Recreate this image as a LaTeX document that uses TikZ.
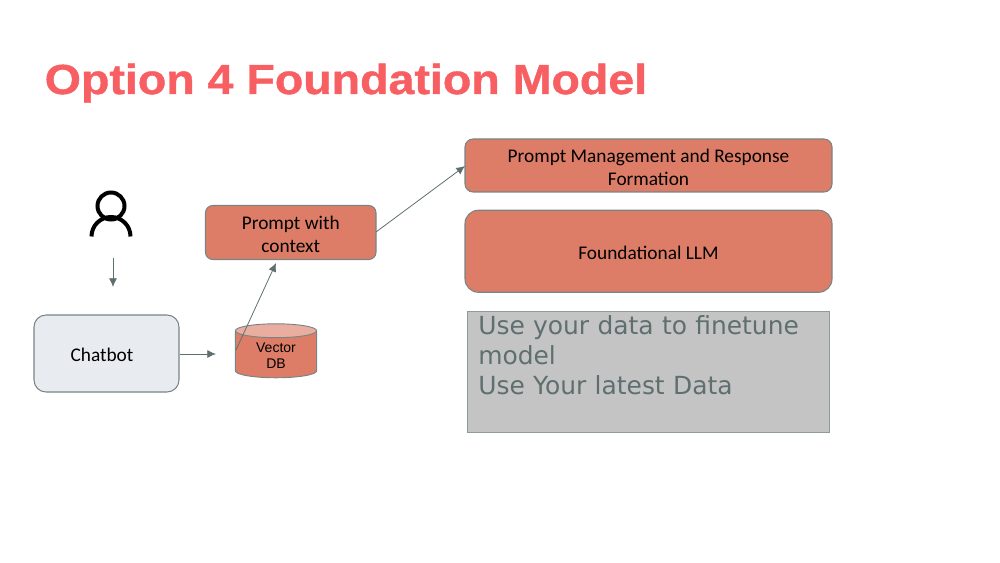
\documentclass[tikz,border=0pt]{standalone}
\usepackage{fontspec}
\setmainfont{Carlito}
\newfontfamily\titlefont[FakeStretch=1.108,FakeBold=1]{Liberation Sans}
\newfontfamily\dbfont{Liberation Sans}
\newfontfamily\notefont{DejaVu Sans}
\usetikzlibrary{positioning, arrows.meta, shapes.geometric}
\definecolor{salmon}{HTML}{DD7D67}
\definecolor{salmonlight}{HTML}{E9AE9F}
\definecolor{edgegray}{HTML}{5F6F6F}
\definecolor{chatfill}{HTML}{E8ECF1}
\definecolor{notefill}{HTML}{C4C4C4}
\definecolor{titlered}{HTML}{F75F63}
\newcommand{\dropline}{\\[-5pt]}
\tikzset{
	box/.style={draw=edgegray!85, line width=0.8pt, fill=salmon, align=center, inner sep=0pt, font=\fontsize{14.5}{17.2}\selectfont},
	link/.style={draw=edgegray, line width=0.6pt, -{Latex[length=6.5pt,width=6pt]}},
}
\begin{document}
\begin{tikzpicture}[x=0.75pt, y=-0.75pt]
	\useasboundingbox (0,0) rectangle (1000,563);

	\node[anchor=base west, inner sep=0pt, text=titlered, font=\titlefont\fontsize{31.5}{36}\bfseries\selectfont] (title) at (44.5,94) {Option 4 Foundation Model};

	% user icon
	\draw[line width=3pt, black] (111,206) circle (13.5);
	\draw[line width=3pt, black] (91.5,236.5) arc[start angle=180, end angle=0, x radius=19.5, y radius=-19.5];
	\coordinate (userout) at (113,258);
	\coordinate (botin) at (113,287);
	\coordinate (dbin) at (216,354);

	\node[box, minimum width=108.75pt, minimum height=57.75pt, rounded corners=9pt, fill=chatfill] (chatbot) at (106.5,353.5) {\dropline Chatbot\hspace*{6.75pt}};
	\node[box, minimum width=127.9pt, minimum height=40.5pt, rounded corners=5.5pt] (prompt) at (290.75,232.5) {\dropline Prompt with\\context};
	\node[box, minimum width=275.25pt, minimum height=39.75pt, rounded corners=6pt] (mgmt) at (648.5,165.5) {\dropline Prompt Management and Response\\Formation};
	\node[box, minimum width=275.25pt, minimum height=61.5pt, rounded corners=10pt] (llm) at (648.5,251.25) {\dropline Foundational LLM};
	\node[draw=edgegray!70, line width=0.7pt, fill=notefill, minimum width=271.5pt, minimum height=90.75pt, inner sep=0pt] (notebox) at (648.5,371.5) {};
	\node[anchor=north west, inner sep=0pt, text width=262pt, align=left, text=edgegray, font=\notefont\fontsize{18.7}{22.5}\selectfont] (note) at (478,315) {Use your data to finetune model\\Use Your latest Data};

	\node[cylinder, shape border rotate=90, aspect=0.35, draw=edgegray!85, line width=0.7pt, cylinder uses custom fill, cylinder body fill=salmon, cylinder end fill=salmonlight, minimum width=61pt, minimum height=40.5pt, inner sep=0pt, align=center, font=\dbfont\fontsize{10.5}{12}\selectfont] (db) at (276,354.5) {\\[-3pt]Vector\\DB};

	\coordinate (dbout) at (236,350);
	\coordinate (promptin) at (276,263);
	\coordinate (promptout) at (376,232);
	\coordinate (mgmtin) at (465,166);

	\draw[link] (userout) -- (botin);
	\draw[link] (chatbot.east |- dbin) -- (dbin);
	\draw[link] (dbout) -- (promptin);
	\draw[link] (promptout) -- (mgmtin);
\end{tikzpicture}
\end{document}
